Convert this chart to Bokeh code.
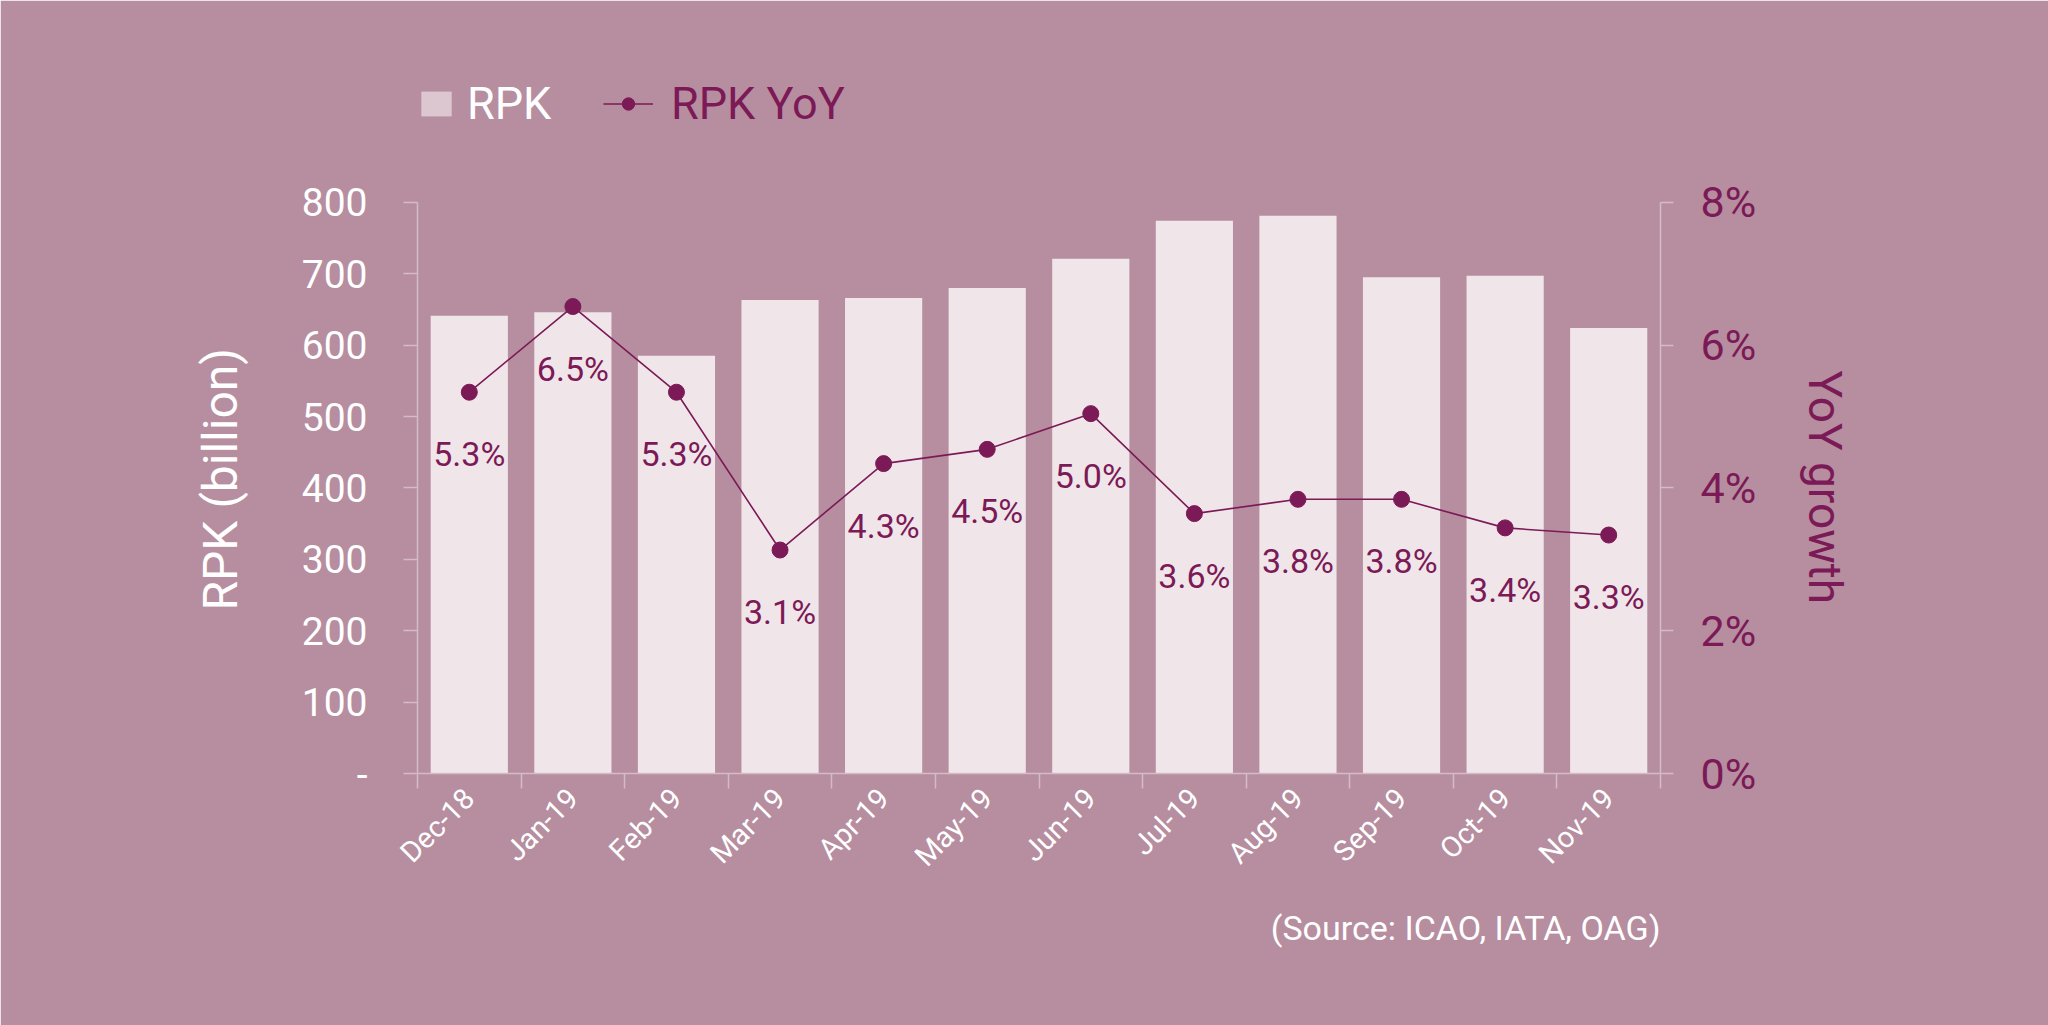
import numpy as np
from bokeh.plotting import figure
from bokeh.models import (ColumnDataSource, Range1d, LinearAxis, FixedTicker,
                          Legend, LegendItem, Title, PrintfTickFormatter)
from bokeh.embed import file_html
from bokeh.resources import INLINE
from bokeh.core.properties import value

# ---- data ----
months = ["Dec-18", "Jan-19", "Feb-19", "Mar-19", "Apr-19", "May-19",
          "Jun-19", "Jul-19", "Aug-19", "Sep-19", "Oct-19", "Nov-19"]
rpk = [641, 646, 585, 663, 666, 680, 721, 774, 781, 695, 697, 624]
yoy = [5.34, 6.54, 5.34, 3.13, 4.34, 4.54, 5.04, 3.64, 3.84, 3.84, 3.44, 3.34]
left_ticks = [0, 100, 200, 300, 400, 500, 600, 700, 800]
right_ticks = [0, 2, 4, 6, 8]
source_note = "(Source: ICAO, IATA, OAG)"

# ---- style ----
BG = "#B68EA0"
BAR = "#F0E6EA"
SWATCH = "#DCC6CF"
DARK = "#7B1A56"
AXIS = "#D5BBC6"
WHITE = "#FFFFFF"
FONT = "Roboto"

x = np.arange(len(months)) + 0.5
src = ColumnDataSource(dict(x=x, rpk=rpk, yoy=yoy,
                            lbl=[f"{v:.1f}%" for v in yoy]))

# the frame reaches up to the legend row; axes are bounded to the data span
p = figure(width=2048, height=1025, x_range=Range1d(0, len(months)),
           y_range=Range1d(0, 1000), output_backend="svg", toolbar_location=None,
           min_border_left=417, min_border_right=388, min_border_top=59,
           min_border_bottom=252)
p.extra_y_ranges = {"yoy": Range1d(0, 10)}
p.background_fill_color = BG
p.border_fill_color = BG
p.outline_line_color = BG
p.outline_line_alpha = 1
p.xgrid.visible = False
p.ygrid.visible = False

bars = p.vbar(x="x", top="rpk", width=0.745, source=src, fill_color=BAR, line_color=None)
swatch = p.vbar(x="x", top="rpk", width=0.745, source=src, fill_color=SWATCH,
                line_color=None, visible=False)
ln = p.line(x="x", y="yoy", source=src, y_range_name="yoy", line_color=DARK, line_width=1.6)
pts = p.scatter(x="x", y="yoy", source=src, y_range_name="yoy", size=16,
                fill_color=DARK, line_color=DARK)
p.text(x="x", y="yoy", text="lbl", source=src, y_range_name="yoy", y_offset=62,
       text_align="center", text_baseline="middle", text_font=value(FONT),
       text_font_size="34px", text_color=DARK)

# x axis
xa = p.xaxis[0]
xa.ticker = FixedTicker(ticks=list(x), minor_ticks=list(range(len(months) + 1)))
xa.major_label_overrides = {float(v): m for v, m in zip(x, months)}
xa.major_tick_line_color = None
xa.minor_tick_line_color = AXIS
xa.minor_tick_out = 15
xa.minor_tick_in = 0
xa.axis_line_color = AXIS
xa.axis_line_width = 1.5
xa.minor_tick_line_width = 1.5
xa.major_label_orientation = np.pi / 4
xa.major_label_text_font = FONT
xa.major_label_text_font_size = "29px"
xa.major_label_text_color = WHITE
xa.major_label_standoff = 5

# left axis
ya = p.yaxis[0]
ya.bounds = (0, 800)
ya.ticker = FixedTicker(ticks=left_ticks, minor_ticks=[])
ya.major_label_overrides = {0: "-"}
ya.axis_line_color = AXIS
ya.axis_line_width = 1.5
ya.major_tick_line_color = AXIS
ya.major_tick_line_width = 1.5
ya.major_tick_out = 14
ya.major_tick_in = 0
ya.minor_tick_line_color = None
ya.major_label_standoff = 36
ya.major_label_text_font = FONT
ya.major_label_text_font_size = "39px"
ya.major_label_text_color = WHITE

# right axis
ra = LinearAxis(y_range_name="yoy", bounds=(0, 8),
                ticker=FixedTicker(ticks=right_ticks, minor_ticks=[]),
                formatter=PrintfTickFormatter(format="%d%%"))
ra.axis_line_color = AXIS
ra.axis_line_width = 1.5
ra.major_tick_line_color = AXIS
ra.major_tick_line_width = 1.5
ra.major_tick_out = 13
ra.major_tick_in = 0
ra.minor_tick_line_color = None
ra.major_label_standoff = 27
ra.major_label_text_font = FONT
ra.major_label_text_font_size = "43px"
ra.major_label_text_color = DARK
p.add_layout(ra, "right")

# axis titles as side titles, placed along the 0..800 span
p.add_layout(Title(text="RPK (billion)", align="left", offset=163, text_font=FONT,
                   text_font_size="48px", text_font_style="normal",
                   text_color=WHITE, standoff=100), "left")
p.add_layout(Title(text="YoY growth", align="left", offset=311, text_font=FONT,
                   text_font_size="46px", text_font_style="normal",
                   text_color=DARK, standoff=76), "right")

# legends (inside the tall frame, above the bars)
def make_legend(items, loc, color, gw, gap):
    lg = Legend(items=items, location=loc, orientation="horizontal",
                background_fill_alpha=0, border_line_color=None,
                inactive_fill_alpha=0,
                glyph_width=gw, glyph_height=31, label_standoff=gap,
                padding=0, margin=0, spacing=0,
                label_text_font=FONT, label_text_font_size="45px",
                label_text_color=color)
    p.add_layout(lg, "center")

make_legend([LegendItem(label="RPK", renderers=[swatch])], (0, 643), WHITE, 38, 12)
make_legend([LegendItem(label="RPK YoY", renderers=[ln, pts])], (186, 643), DARK, 50, 18)

# source note under the x axis
p.add_layout(Title(text=source_note, align="right", text_font=FONT,
                   text_font_size="34px", text_font_style="normal",
                   text_color=WHITE, standoff=36), "below")

open("out.html", "w").write(file_html(p, INLINE))
